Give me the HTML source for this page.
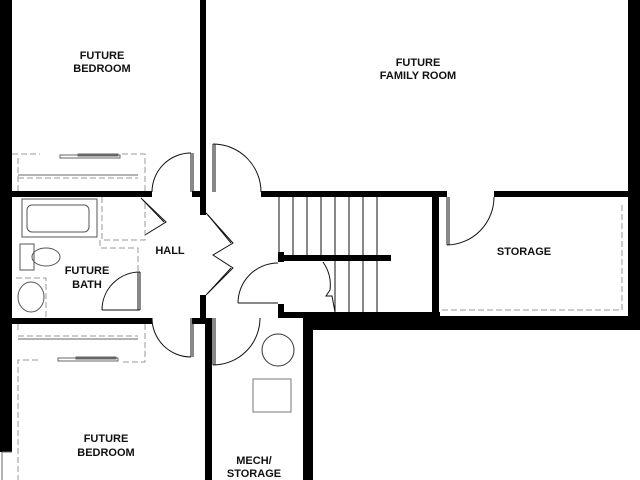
<!DOCTYPE html><html><head><style>body{margin:0;background:#fff}svg{display:block}text{font-family:"Liberation Sans",sans-serif;font-weight:bold;font-size:11px;text-anchor:middle;fill:#111}</style></head><body>
<svg width="640" height="480" viewBox="0 0 640 480" xmlns="http://www.w3.org/2000/svg">
<g fill="#000">
<rect x="0" y="0" width="12" height="452"/>
<rect x="200" y="0" width="6" height="215"/>
<rect x="12" y="191" width="140" height="6"/>
<rect x="192" y="191" width="14" height="6"/>
<rect x="12" y="318" width="140" height="6"/>
<rect x="192" y="318" width="14" height="6"/>
<rect x="200" y="295" width="6" height="29"/>
<rect x="205" y="318" width="7" height="162"/>
<rect x="261" y="191" width="186" height="6"/>
<rect x="494" y="191" width="146" height="6"/>
<rect x="628" y="0" width="12" height="330"/>
<rect x="432" y="191" width="7" height="127"/>
<rect x="278" y="312" width="162" height="6"/>
<rect x="303" y="316" width="337" height="14"/>
<rect x="303" y="316" width="10" height="164"/>
<rect x="278" y="255" width="113" height="6"/>
<rect x="278" y="252" width="6" height="10"/>
<rect x="278" y="304" width="6" height="10"/>
</g>
<g fill="none" stroke="#111" stroke-width="1">
<path d="M152 192 A39 39 0 0 1 191 153"/><line x1="191" y1="153" x2="191" y2="192"/><line x1="193" y1="153" x2="193" y2="192"/>
<path d="M213 144 A48 48 0 0 1 261 192"/><line x1="213" y1="144" x2="213" y2="192"/><line x1="215" y1="144" x2="215" y2="192"/>
<path d="M152 318 A39 39 0 0 0 191 357"/><line x1="191" y1="318" x2="191" y2="357"/><line x1="193" y1="318" x2="193" y2="357"/>
<path d="M260 318 A47 47 0 0 1 213 365"/><line x1="213" y1="318" x2="213" y2="365"/><line x1="215" y1="318" x2="215" y2="365"/>
<path d="M102 310 A38 38 0 0 1 140 272"/><line x1="138" y1="272" x2="138" y2="310"/><line x1="140" y1="272" x2="140" y2="310"/><line x1="102" y1="310" x2="140" y2="310"/>
<path d="M238 303 A40 40 0 0 1 278 263"/><line x1="238" y1="303" x2="278" y2="303"/>
<path d="M447 245 A48 48 0 0 0 494 197"/><line x1="447" y1="197" x2="447" y2="245"/><line x1="449" y1="197" x2="449" y2="245"/>
<path d="M206 213 L233 243 L213 255 L233 268 L206 295"/><path d="M208 215 L231 243"/><path d="M208 293 L231 268"/>
<path d="M143 200 L166 222 L145 235"/><path d="M141 198 L164 222"/>
<path d="M323 262 Q332 275 330 290 L326 296 L332 296 L335 312"/>
<line x1="279" y1="197" x2="279" y2="255"/><line x1="293" y1="197" x2="293" y2="255"/><line x1="307" y1="197" x2="307" y2="255"/><line x1="321" y1="197" x2="321" y2="255"/><line x1="335" y1="197" x2="335" y2="255"/><line x1="349" y1="197" x2="349" y2="255"/><line x1="363" y1="197" x2="363" y2="255"/><line x1="377" y1="197" x2="377" y2="255"/>
<line x1="335" y1="261" x2="335" y2="312"/><line x1="349" y1="261" x2="349" y2="312"/><line x1="363" y1="261" x2="363" y2="312"/><line x1="377" y1="261" x2="377" y2="312"/>
<circle cx="278" cy="350" r="16" stroke="#333"/>
<rect x="253" y="379" width="38" height="33" stroke="#777"/>
<rect x="22" y="199" width="75" height="38" stroke="#555"/><rect x="27" y="205" width="62" height="27" rx="5" stroke="#555"/>
<rect x="20" y="244" width="14" height="26" stroke="#555"/><ellipse cx="46" cy="257" rx="14" ry="9" stroke="#555"/>
<ellipse cx="31" cy="297" rx="13" ry="15" stroke="#555"/>
</g>
<g fill="none" stroke="#666" stroke-width="1">
<rect x="60" y="155" width="60" height="3"/><rect x="78" y="154" width="40" height="2"/>
<line x1="18" y1="175" x2="138" y2="175"/>
<rect x="58" y="358" width="60" height="3"/><rect x="76" y="357" width="40" height="2"/>
<line x1="18" y1="339" x2="138" y2="339"/>
<path d="M2 452 V480 M12 452 H2"/>
</g>
<g fill="none" stroke="#999" stroke-width="1" stroke-dasharray="6,3">
<path d="M102 197 V240 H145 V200"/><path d="M100 240 V248 H138 V272"/>
<path d="M12 154 H40 M122 154 H145 V191"/><path d="M18 178 H138"/><path d="M18 158 V191"/>
<path d="M18 336 H138"/><path d="M18 324 V330"/><path d="M145 324 V362 H120"/><path d="M38 360 H18 V480"/>
<path d="M622 205 V310 H440"/>
<path d="M16 278 H46 V318"/>
</g>
<text x="102" y="59">FUTURE</text><text x="102" y="72">BEDROOM</text>
<text x="418" y="66">FUTURE</text><text x="418" y="79">FAMILY ROOM</text>
<text x="170" y="254">HALL</text>
<text x="87" y="274">FUTURE</text><text x="87" y="288">BATH</text>
<text x="524" y="255">STORAGE</text>
<text x="106" y="442">FUTURE</text><text x="106" y="456">BEDROOM</text>
<text x="254" y="464">MECH/</text><text x="254" y="477">STORAGE</text>
</svg></body></html>
